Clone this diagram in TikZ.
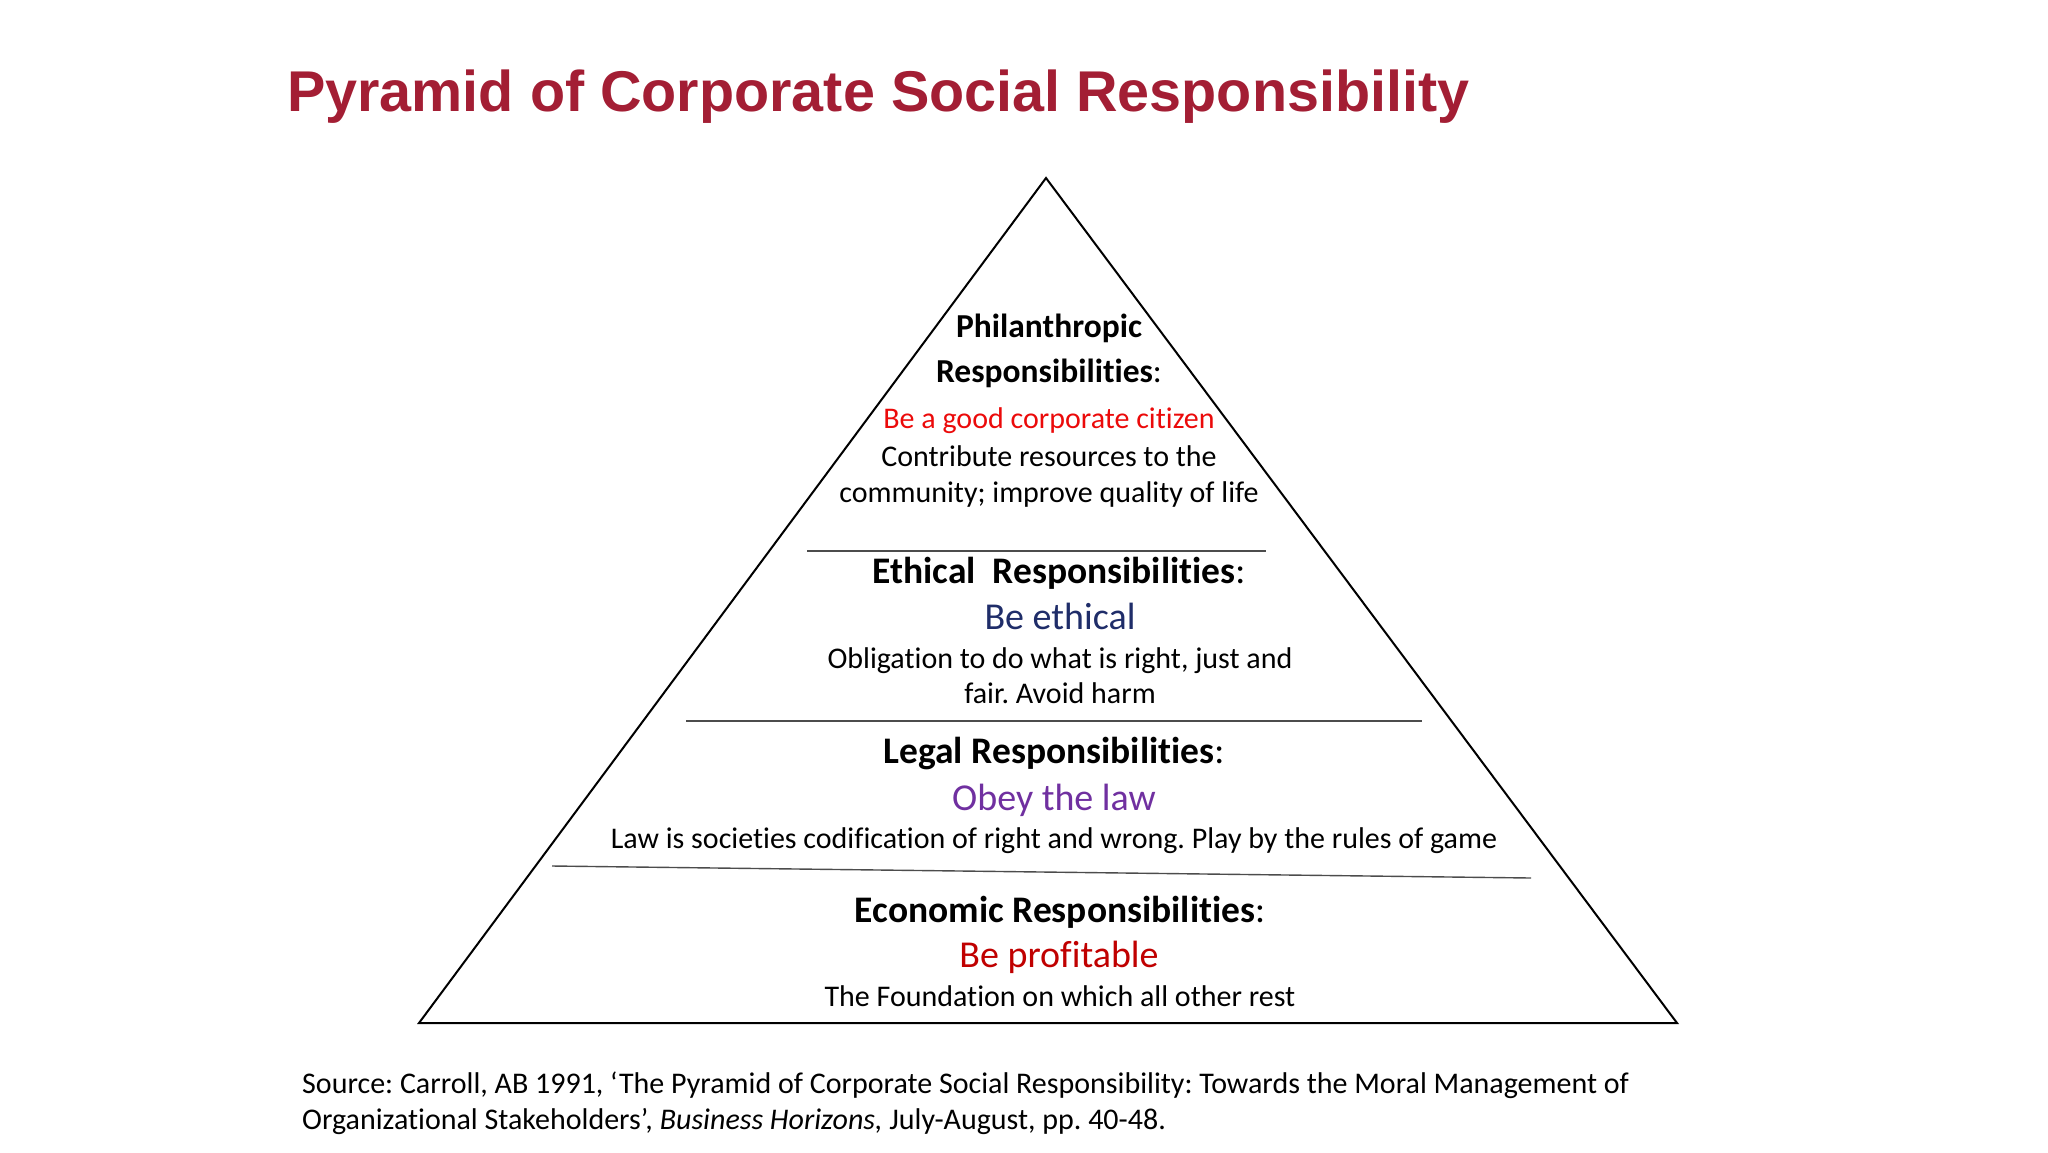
\documentclass[tikz,border=0pt]{standalone}
\usepackage{fontspec}
\setmainfont{Carlito}[Ligatures=NoCommon]
\newfontfamily\titlefont{Liberation Sans}
\usetikzlibrary{positioning}
\frenchspacing

\definecolor{titlered}{RGB}{163,30,52}
\definecolor{citizenred}{RGB}{235,10,10}
\definecolor{ethicblue}{RGB}{31,45,105}
\definecolor{lawpurple}{RGB}{112,48,160}
\definecolor{profitred}{RGB}{192,0,0}

\begin{document}
\begin{tikzpicture}[x=1pt,y=-1pt,
		txt/.style={anchor=base,inner sep=0pt,font=\fontsize{30}{36}\selectfont},
		head/.style={anchor=base,inner sep=0pt,font=\fontsize{37.5}{44}\selectfont},
		motto/.style={anchor=base,inner sep=0pt,font=\fontsize{38}{44}\selectfont},
		tier/.style={black!70,line width=1.4pt}]
			\useasboundingbox (0,0) rectangle (2048,1152);
			% title
			\node[anchor=base west, inner sep=0pt, text=titlered,
				font=\titlefont\bfseries\fontsize{57.5}{62}\selectfont] (title) at (287,111)
				{Pyramid of Corporate Social Responsibility};
			% outline
			\coordinate (apex) at (1046,178);
			\coordinate (bl) at (419,1023);
			\coordinate (br) at (1677,1023);
			\draw[line width=2pt, line join=miter] (apex) -- (bl) -- (br) -- cycle;
			% tiers
			\coordinate (t1l) at (807,551);
			\coordinate (t1r) at (1266,551);
			\coordinate (t2l) at (686,721);
			\coordinate (t2r) at (1422,721);
			\coordinate (t3l) at (552,866);
			\coordinate (t3r) at (1531,878);
			\draw[tier] (t1l) -- (t1r);
			\draw[tier] (t2l) -- (t2r);
			\draw[tier] (t3l) -- (t3r);
			% philanthropic
			\node[head, font=\fontsize{33.5}{40}\selectfont\bfseries] (phil) at (1049,337) {Philanthropic};
			\node[head, font=\fontsize{33.5}{40}\selectfont] (philr) at (1049,382) {\textbf{Responsibilities}:};
			\node[txt, text=citizenred] (philm) at (1049,428) {Be a good corporate citizen};
			\node[txt] (phila) at (1049,466) {Contribute resources to the};
			\node[txt] (philb) at (1049,502) {community; improve quality of life};
			% ethical
			\node[head] (eth) at (1059,583) {\textbf{Ethical\ \ Responsibilities}:};
			\node[motto, text=ethicblue] (ethm) at (1060,629) {Be ethical};
			\node[txt] (etha) at (1060,668) {Obligation to do what is right, just and};
			\node[txt] (ethb) at (1060,703) {fair. Avoid harm};
			% legal
			\node[head] (leg) at (1054,763) {\textbf{Legal Responsibilities}:};
			\node[motto, text=lawpurple] (legm) at (1054,810) {Obey the law};
			\node[txt] (lega) at (1054,848) {Law is societies codification of right and wrong. Play by the rules of game};
			% economic
			\node[head] (eco) at (1060,922) {\textbf{Economic Responsibilities}:};
			\node[motto, text=profitred] (ecom) at (1059,967) {Be profitable};
			\node[txt] (ecoa) at (1060,1006) {The Foundation on which all other rest};
			% source
			\node[anchor=base west, inner sep=0pt, align=left,
				font=\fontsize{30}{36}\selectfont] (src) at (302,1129)
				{Source: Carroll, AB 1991, ‘The Pyramid of Corporate Social Responsibility: Towards the Moral Management of\\
				Organizational Stakeholders’, \textit{Business Horizons,} July-August, pp. 40-48.};
		\end{tikzpicture}
\end{document}
